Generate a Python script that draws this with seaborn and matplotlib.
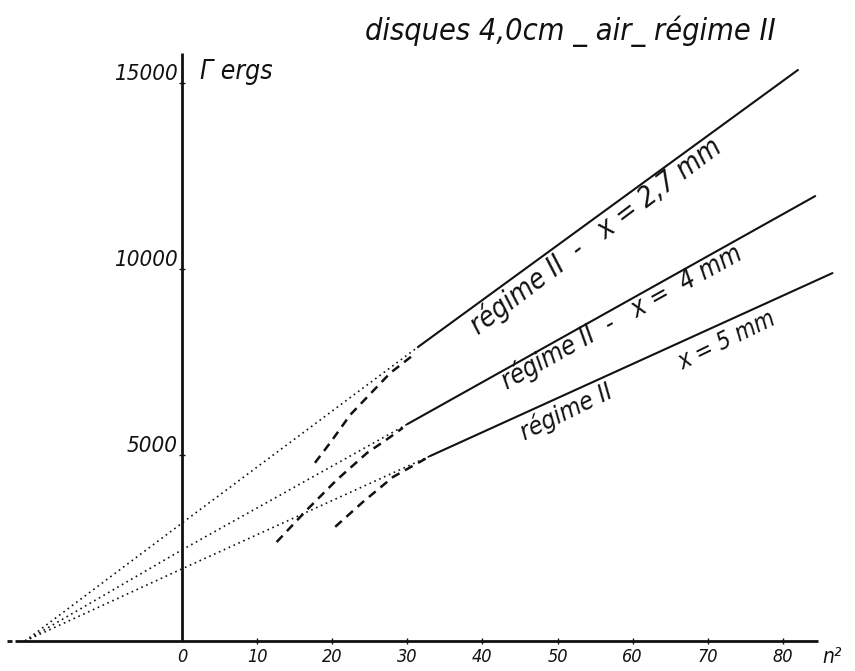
import numpy as np
import pandas as pd
import seaborn as sns
import matplotlib.pyplot as plt

# axis ticks
n2_ticks = [0, 10, 20, 30, 40, 50, 60, 70, 80]
gamma_ticks = [5000, 10000, 15000]

# measured curves, regime II (straight parts)
solid_27_n2 = [31.4, 82.0]
solid_27_gamma = [7900, 15350]
solid_4_n2 = [30.0, 84.3]
solid_4_gamma = [5830, 11960]
solid_5_n2 = [33.0, 86.6]
solid_5_gamma = [4970, 9890]

# extrapolation to Gamma = 0 (dotted)
extra_27_n2 = [-20.9, 0, 31.4]
extra_27_gamma = [0, 3170, 7900]
extra_4_n2 = [-20.9, 0, 30.0]
extra_4_gamma = [0, 2450, 5830]
extra_5_n2 = [-20.9, 0, 33.0]
extra_5_gamma = [0, 1940, 4970]

# transition branches (dashed)
trans_27_n2 = [17.7, 19.7, 22.4, 27.7, 30.8]
trans_27_gamma = [4790, 5320, 6080, 7200, 7690]
trans_4_n2 = [12.6, 16.6, 20.6, 24.6, 27.7, 29.4]
trans_4_gamma = [2660, 3520, 4330, 5050, 5480, 5730]
trans_5_n2 = [20.4, 24.1, 28.1, 32.6]
trans_5_gamma = [3070, 3740, 4410, 4920]

title = "disques 4,0cm _ air_ régime II"
ylabel = "Γ ergs"
xlabel = "n²"
label_27 = "régime II  -   x = 2,7 mm"
label_4 = "régime II  -   x =  4 mm"
label_5a = "régime II"
label_5b = "x = 5 mm"

sns.set_style("white")
plt.rcParams['font.family'] = ['DejaVu Sans']
plt.rcParams['font.stretch'] = 'condensed'
plt.rcParams['font.style'] = 'italic'

fig = plt.figure(figsize=(8.55, 6.71), dpi=100)
ax = fig.add_axes([0, 0, 1, 1])

ink = '#111111'
for n2, g in [(solid_27_n2, solid_27_gamma), (solid_4_n2, solid_4_gamma), (solid_5_n2, solid_5_gamma)]:
    sns.lineplot(x=n2, y=g, ax=ax, color=ink, lw=1.5, estimator=None, sort=False)
for n2, g in [(extra_27_n2, extra_27_gamma), (extra_4_n2, extra_4_gamma), (extra_5_n2, extra_5_gamma)]:
    sns.lineplot(x=n2, y=g, ax=ax, color=ink, lw=1.2, linestyle=(0, (1, 2.2)), estimator=None, sort=False)
for n2, g in [(trans_27_n2, trans_27_gamma), (trans_4_n2, trans_4_gamma), (trans_5_n2, trans_5_gamma)]:
    sns.lineplot(x=n2, y=g, ax=ax, color=ink, lw=1.8, linestyle=(0, (3.5, 2.5)), estimator=None, sort=False)

# hand-drawn axes
ax.hlines(0, -22.2, 84.7, color=ink, lw=2)
ax.hlines(0, -23.3, -22.6, color=ink, lw=2)
ax.vlines(0, 0, 15800, color=ink, lw=2)
ax.plot(n2_ticks[1:], [0] * (len(n2_ticks) - 1), ls='none', marker='|', ms=4, color=ink)
ax.plot([0] * len(gamma_ticks), gamma_ticks, ls='none', marker='_', ms=4, color=ink)

for t in n2_ticks:
    ax.text(t, -430, str(t), ha='center', va='center', fontsize=13, color=ink)
for t in gamma_ticks:
    ax.text(-0.6, t + 250, str(t), ha='right', va='center', fontsize=16, color=ink)

ax.text(86.6, -430, xlabel, ha='center', va='center', fontsize=15, color=ink)
ax.text(2.4, 15300, ylabel, ha='left', va='center', fontsize=19, color=ink)
ax.text(51.7, 16400, title, ha='center', va='center', fontsize=22, color=ink)

ax.text(39.4, 8225, label_27, rotation=37, rotation_mode='anchor',
        ha='left', va='baseline', fontsize=20, color=ink)
ax.text(43.3, 6750, label_4, rotation=29, rotation_mode='anchor',
        ha='left', va='baseline', fontsize=18.5, color=ink)
ax.text(45.7, 5400, label_5a, rotation=26, rotation_mode='anchor',
        ha='left', va='baseline', fontsize=18, color=ink)
ax.text(66.6, 7285, label_5b, rotation=26, rotation_mode='anchor',
        ha='left', va='baseline', fontsize=17, color=ink)

ax.set_xlim(-24.23, 89.6)
ax.set_ylim(-806, 17231)
ax.axis('off')

fig.savefig('out.png', dpi=100, facecolor='white')
